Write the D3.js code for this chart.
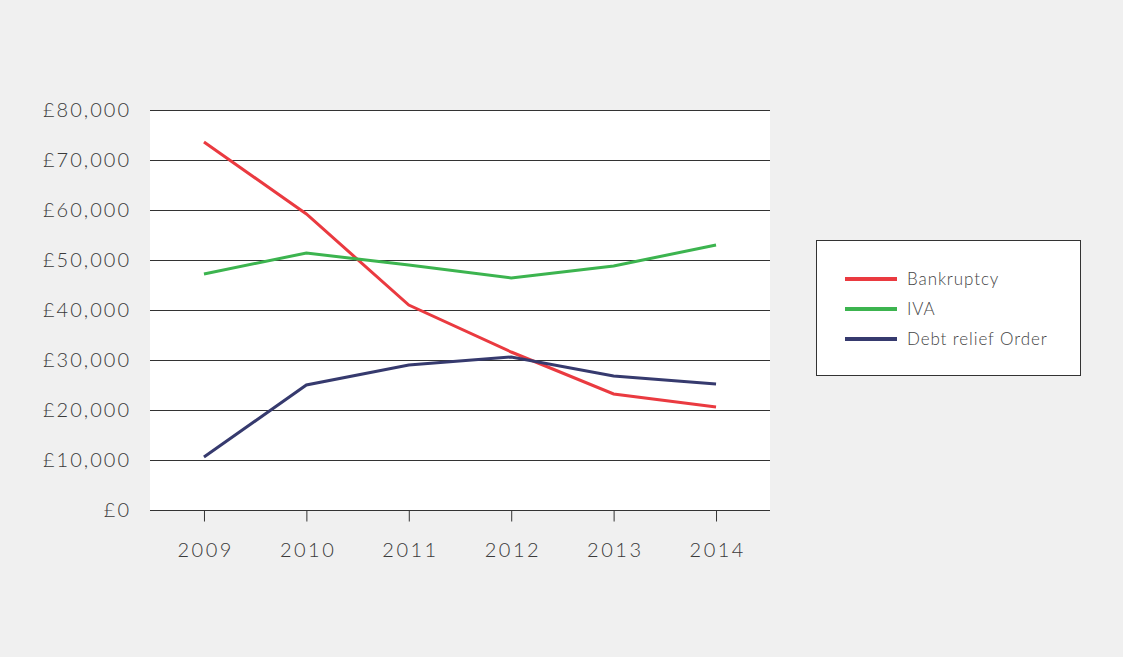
<!DOCTYPE html>
<html><head><meta charset="utf-8">
<script src="https://cdn.jsdelivr.net/npm/d3@7"></script>
<style>
html,body{margin:0;padding:0;background:#f0f0f0;}
svg{display:block;font-family:Lato,"Open Sans",sans-serif;}
</style></head>
<body><svg id="c" width="1123" height="657"></svg>
<script>
const years = ["2009","2010","2011","2012","2013","2014"];
const bankruptcy = [73600, 59200, 41000, 31600, 23200, 20600];
const iva = [47200, 51400, 49000, 46400, 48800, 53000];
const dro = [10600, 25000, 29000, 30600, 26800, 25200];
const seriesNames = ["Bankruptcy", "IVA", "Debt relief Order"];
const seriesColors = ["#ea3a40", "#3cb44f", "#363a6e"];
const yTicks = [0, 10000, 20000, 30000, 40000, 50000, 60000, 70000, 80000];

(function(){
const svg = d3.select("#c");
const pL = 150, pR = 770, pT = 110, pB = 510;
const x = d3.scalePoint().domain(years).range([pL, pR]).padding(0.527);
const y = d3.scaleLinear().domain([0, 80000]).range([pB, pT]);

svg.append("rect").attr("x", pL).attr("y", pT).attr("width", pR - pL).attr("height", pB - pT).attr("fill", "#fff");

svg.append("g").selectAll("line").data(yTicks).join("line")
  .attr("x1", pL).attr("x2", pR)
  .attr("y1", d => Math.round(y(d)) + 0.5).attr("y2", d => Math.round(y(d)) + 0.5)
  .attr("stroke", "#333").attr("stroke-width", 1);

const fmt = d => "£" + d3.format(",")(d);
svg.append("g").selectAll("text").data(yTicks).join("text")
  .attr("x", 131).attr("y", d => y(d)).attr("dy", "0.35em")
  .attr("text-anchor", "end").attr("font-size", 20).attr("fill", "#3a3a3a")
  .attr("letter-spacing", 2).attr("font-weight", 300)
  .text(fmt);

const xAxis = d3.axisBottom(x).tickSize(11).tickPadding(21).tickFormat(d => d);
const gx = svg.append("g").attr("transform", `translate(0,${pB + 0.5})`).call(xAxis);
gx.select(".domain").remove();
gx.selectAll(".tick line").attr("stroke", "#333");
gx.selectAll(".tick text").attr("font-size", 20).attr("fill", "#3a3a3a").attr("font-family", "Lato,'Open Sans',sans-serif").attr("letter-spacing", 2.5).attr("font-weight", 300).attr("dx", 1.2);

const data = [bankruptcy, iva, dro];
const line = d3.line().x((d, i) => x(years[i])).y(d => y(d));
svg.append("g").selectAll("path").data(data).join("path")
  .attr("d", line).attr("fill", "none")
  .attr("stroke", (d, i) => seriesColors[i]).attr("stroke-width", 3);

const lg = svg.append("g");
lg.append("rect").attr("x", 816.5).attr("y", 240.5).attr("width", 264).attr("height", 135)
  .attr("fill", "#fff").attr("stroke", "#333").attr("stroke-width", 1);
const items = lg.selectAll("g.item").data(seriesNames).join("g").attr("class", "item")
  .attr("transform", (d, i) => `translate(0,${279 + i * 30})`);
items.append("line").attr("x1", 845).attr("x2", 897).attr("y1", 0).attr("y2", 0)
  .attr("stroke", (d, i) => seriesColors[i]).attr("stroke-width", 4);
items.append("text").attr("x", 907).attr("y", 0).attr("dy", "0.35em")
  .attr("font-size", 17).attr("fill", "#444").attr("letter-spacing", 0.9).attr("font-weight", 300)
  .text(d => d);
})();
</script></body></html>
